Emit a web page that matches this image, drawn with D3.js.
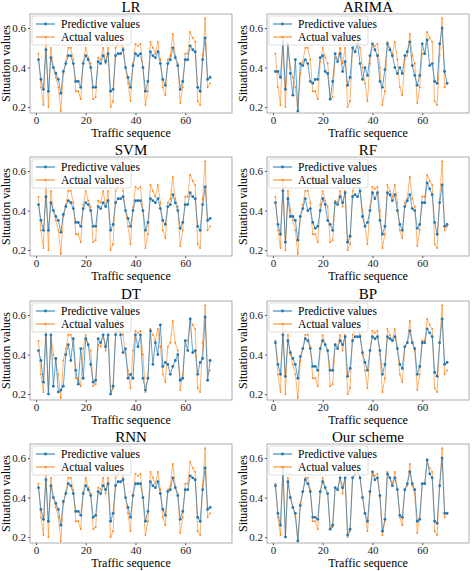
<!DOCTYPE html><html><head><meta charset="utf-8"><script src="https://d3js.org/d3.v7.min.js"></script>
<style>body{margin:0;background:#fff}svg text{font-family:"Liberation Serif","Times New Roman",Tinos,"DejaVu Serif","Noto Serif",serif !important}</style></head><body><svg id="c" width="474" height="571"></svg>
<script>
const titles=["LR","ARIMA","SVM","RF","DT","BP","RNN","Our scheme"];
const xTicks=[0,20,40,60];
const yTicks=[0.2,0.4,0.6];
const actual=[0.47,0.30,0.21,0.55,0.20,0.50,0.40,0.35,0.30,0.18,0.37,0.43,0.50,0.50,0.44,0.28,0.28,0.24,0.43,0.50,0.45,0.42,0.24,0.25,0.45,0.44,0.50,0.42,0.50,0.20,0.23,0.50,0.52,0.54,0.50,0.40,0.32,0.23,0.42,0.52,0.51,0.52,0.40,0.21,0.28,0.53,0.50,0.47,0.53,0.44,0.30,0.26,0.44,0.46,0.57,0.46,0.42,0.22,0.30,0.47,0.47,0.58,0.55,0.53,0.23,0.21,0.46,0.65,0.30,0.32];
const predLR=[0.44,0.34,0.29,0.49,0.28,0.45,0.40,0.37,0.34,0.27,0.38,0.42,0.46,0.46,0.42,0.33,0.33,0.30,0.42,0.46,0.44,0.40,0.30,0.30,0.43,0.42,0.46,0.43,0.47,0.28,0.29,0.46,0.47,0.47,0.49,0.40,0.35,0.30,0.41,0.47,0.46,0.47,0.40,0.28,0.33,0.48,0.46,0.45,0.48,0.42,0.34,0.31,0.42,0.44,0.50,0.45,0.41,0.29,0.33,0.44,0.44,0.51,0.49,0.48,0.30,0.28,0.44,0.55,0.34,0.35];
const predARIMA=[0.38,0.38,0.35,0.53,0.29,0.52,0.37,0.26,0.44,0.18,0.42,0.41,0.44,0.42,0.33,0.32,0.34,0.34,0.45,0.46,0.38,0.37,0.24,0.33,0.47,0.43,0.47,0.38,0.43,0.31,0.35,0.50,0.48,0.52,0.42,0.34,0.40,0.36,0.46,0.52,0.49,0.46,0.33,0.30,0.39,0.52,0.49,0.46,0.40,0.37,0.40,0.37,0.46,0.48,0.53,0.41,0.36,0.31,0.36,0.52,0.47,0.54,0.41,0.42,0.33,0.32,0.52,0.60,0.38,0.32];
const predSVM=[0.43,0.35,0.30,0.47,0.30,0.44,0.40,0.37,0.35,0.29,0.38,0.42,0.45,0.44,0.41,0.34,0.34,0.32,0.41,0.44,0.43,0.40,0.32,0.32,0.42,0.41,0.44,0.42,0.45,0.30,0.33,0.44,0.46,0.46,0.47,0.40,0.36,0.32,0.40,0.45,0.45,0.45,0.40,0.30,0.34,0.46,0.45,0.44,0.46,0.41,0.35,0.33,0.42,0.43,0.48,0.44,0.40,0.31,0.34,0.43,0.43,0.49,0.47,0.46,0.32,0.30,0.43,0.52,0.35,0.36];
const predRF=[0.44,0.33,0.28,0.50,0.24,0.46,0.37,0.37,0.35,0.25,0.37,0.41,0.46,0.40,0.41,0.34,0.31,0.32,0.40,0.46,0.43,0.35,0.33,0.30,0.44,0.43,0.47,0.44,0.49,0.24,0.27,0.47,0.48,0.47,0.50,0.37,0.32,0.34,0.40,0.49,0.46,0.49,0.35,0.28,0.32,0.49,0.48,0.45,0.48,0.40,0.33,0.30,0.42,0.45,0.48,0.41,0.40,0.31,0.33,0.44,0.44,0.54,0.51,0.48,0.34,0.28,0.44,0.53,0.32,0.33];
const predDT=[0.42,0.37,0.26,0.50,0.20,0.50,0.24,0.38,0.21,0.22,0.24,0.40,0.45,0.37,0.48,0.32,0.25,0.43,0.28,0.48,0.45,0.35,0.26,0.27,0.48,0.46,0.50,0.44,0.50,0.20,0.24,0.50,0.57,0.50,0.41,0.43,0.28,0.30,0.28,0.50,0.44,0.50,0.28,0.22,0.28,0.52,0.35,0.46,0.40,0.55,0.34,0.36,0.35,0.30,0.34,0.37,0.40,0.27,0.28,0.47,0.42,0.58,0.41,0.42,0.30,0.36,0.38,0.59,0.27,0.37];
const predBP=[0.46,0.35,0.30,0.50,0.29,0.47,0.41,0.38,0.35,0.28,0.39,0.43,0.48,0.47,0.43,0.34,0.34,0.32,0.43,0.47,0.45,0.42,0.32,0.32,0.45,0.43,0.47,0.45,0.49,0.29,0.33,0.47,0.49,0.49,0.49,0.41,0.36,0.32,0.42,0.49,0.48,0.49,0.42,0.30,0.35,0.49,0.48,0.47,0.49,0.43,0.35,0.33,0.44,0.46,0.52,0.46,0.43,0.30,0.34,0.46,0.46,0.53,0.51,0.49,0.31,0.29,0.46,0.58,0.35,0.36];
const predRNN=[0.45,0.34,0.29,0.49,0.28,0.46,0.40,0.37,0.34,0.26,0.38,0.42,0.47,0.46,0.42,0.33,0.33,0.31,0.42,0.46,0.44,0.41,0.30,0.31,0.43,0.42,0.46,0.44,0.47,0.28,0.32,0.46,0.48,0.48,0.49,0.40,0.35,0.30,0.41,0.47,0.47,0.47,0.40,0.28,0.33,0.48,0.46,0.45,0.48,0.42,0.34,0.31,0.43,0.44,0.50,0.45,0.41,0.29,0.33,0.44,0.44,0.51,0.50,0.49,0.30,0.28,0.44,0.55,0.34,0.35];
const predOurs=[0.46,0.32,0.26,0.55,0.20,0.48,0.40,0.35,0.32,0.18,0.36,0.43,0.49,0.47,0.43,0.30,0.30,0.29,0.43,0.48,0.45,0.42,0.24,0.26,0.45,0.44,0.50,0.45,0.50,0.21,0.24,0.50,0.52,0.54,0.50,0.40,0.32,0.28,0.43,0.53,0.49,0.50,0.41,0.23,0.29,0.52,0.50,0.46,0.50,0.44,0.31,0.30,0.44,0.47,0.53,0.47,0.44,0.28,0.29,0.47,0.47,0.59,0.52,0.50,0.28,0.27,0.46,0.60,0.32,0.32];
const preds=[predLR,predARIMA,predSVM,predRF,predDT,predBP,predRNN,predOurs];
const blue="#1f77b4",orange="#ff7f0e";
const svg=d3.select("#c");
const rowY=[0,143,287,430];
titles.forEach((t,i)=>{
  const ox=(i%2)*237, oy=rowY[Math.floor(i/2)];
  const g=svg.append("g").attr("transform",`translate(${ox},${oy})`);
  const L=30,R=232,T=14,B=113;
  const x=d3.scaleLinear().domain([-2.4,78.8]).range([L,R]);
  const y=d3.scaleLinear().domain([0.17,0.671]).range([B,T]);
  g.append("text").attr("x",(L+R)/2).attr("y",12).attr("text-anchor","middle").attr("font-size",15).text(t);
  const xa=g.append("g").attr("transform",`translate(0,${B})`).call(d3.axisBottom(x).tickValues(xTicks).tickSize(2).tickPadding(1).tickFormat(d3.format("d")));
  const ya=g.append("g").attr("transform",`translate(${L},0)`).call(d3.axisLeft(y).tickValues(yTicks).tickSize(2).tickPadding(2).tickFormat(d3.format(".1f")));
  [xa,ya].forEach(a=>{a.select(".domain").remove();a.selectAll("text").attr("font-size",11).attr("fill","#222");a.selectAll("line").attr("stroke","#444");});
  g.append("rect").attr("x",L).attr("y",T).attr("width",R-L).attr("height",B-T).attr("fill","none").attr("stroke","#999").attr("stroke-width",0.8);
  g.append("text").attr("x",(L+R)/2).attr("y",B+24).attr("text-anchor","middle").attr("font-size",12).text("Traffic sequence");
  g.append("text").attr("transform",`translate(10,${(T+B)/2}) rotate(-90)`).attr("text-anchor","middle").attr("font-size",12).text("Situation values");
  const line=d3.line().x((d,k)=>x(k+1)).y(d=>y(d));
  const p=preds[i];
  g.append("path").datum(actual).attr("d",line).attr("fill","none").attr("stroke",orange).attr("stroke-width",0.6);
  g.append("path").datum(p).attr("d",line).attr("fill","none").attr("stroke",blue).attr("stroke-width",0.7);
  g.selectAll(".a").data(actual).enter().append("circle").attr("cx",(d,k)=>x(k+1)).attr("cy",d=>y(d)).attr("r",0.9).attr("fill",orange);
  g.selectAll(".p").data(p).enter().append("circle").attr("cx",(d,k)=>x(k+1)).attr("cy",d=>y(d)).attr("r",1.4).attr("fill",blue);
  const lg=g.append("g");
  lg.append("rect").attr("x",32).attr("y",16).attr("width",99).attr("height",29).attr("fill","#fff").attr("fill-opacity",0.8).attr("stroke","#ddd").attr("rx",2);
  [[blue,"Predictive values",24,1.4],[orange,"Actual values",37,0.9]].forEach(([c,s,yy,r])=>{
    lg.append("line").attr("x1",36).attr("x2",55).attr("y1",yy).attr("y2",yy).attr("stroke",c).attr("stroke-width",1);
    lg.append("circle").attr("cx",45.5).attr("cy",yy).attr("r",r).attr("fill",c);
    lg.append("text").attr("x",61).attr("y",yy+4).attr("font-size",11.5).text(s);
  });
});
</script></body></html>
